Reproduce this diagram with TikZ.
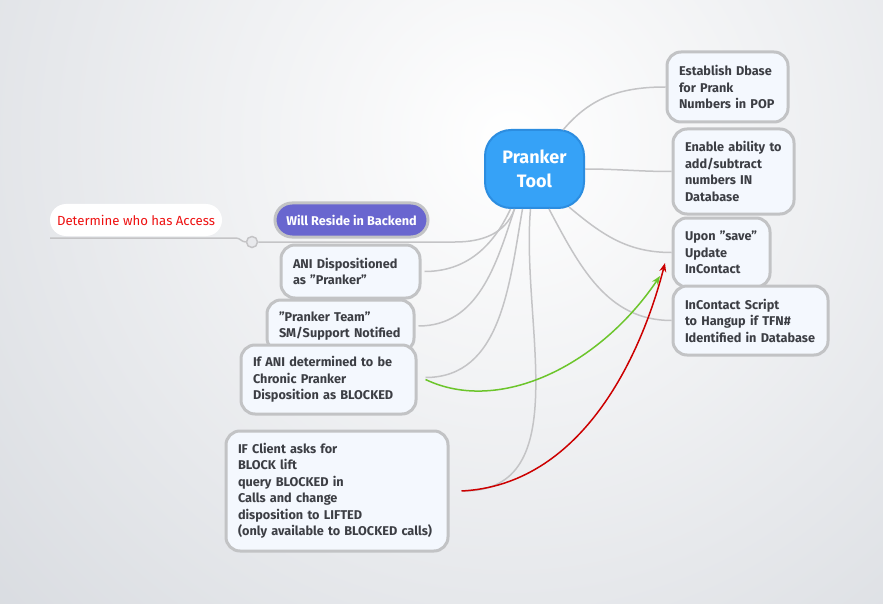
\documentclass[tikz,border=0pt]{standalone}
\usepackage{fontspec}
\setmainfont{Fira Sans}
\usetikzlibrary{arrows.meta,calc}
\definecolor{bgedge}{HTML}{D8DBE0}
\definecolor{boxfill}{HTML}{F4F8FE}
\definecolor{boxline}{HTML}{C2C3C5}
\definecolor{txt}{HTML}{3C3E44}
\definecolor{conn}{HTML}{C4C4C6}
\definecolor{rootfill}{HTML}{36A2F7}
\definecolor{rootline}{HTML}{2C8DE0}
\definecolor{purp}{HTML}{6966CF}
\definecolor{redtxt}{HTML}{EE1111}
\definecolor{grn}{HTML}{6CC52B}
\definecolor{redarr}{HTML}{CC0000}
\newcommand{\qq}{\symbol{34}}
\tikzset{
  topic/.style={draw=boxline, line width=3pt, fill=boxfill, rounded corners=14pt,
    text=txt, font=\fontsize{12.7}{16.5}\selectfont\bfseries, align=left,
    inner xsep=12pt, inner ysep=0pt},
  conline/.style={draw=conn, line width=1.5pt},
}
\begin{document}
\begin{tikzpicture}[x=1pt,y=-1pt]
\useasboundingbox (0,0) rectangle (883,604);
\begin{scope}
\clip (0,0) rectangle (883,604);
\fill[bgedge] (0,0) rectangle (883,604);
\shade[inner color=white, outer color=bgedge] (510,140) circle (720pt);
\end{scope}
% root
\node[draw=rootline, line width=2pt, fill=rootfill, rounded corners=26pt,
  minimum width=99pt, minimum height=78pt, text=white, align=center,
  font=\fontsize{18}{24}\selectfont\bfseries] (root) at (534.5,169) {Pranker\\Tool};
% right side topics
\node[topic, minimum width=121pt, minimum height=70pt, text width=97pt] (est) at (727.5,87) {Establish Dbase\\for Prank\\Numbers in POP};
\node[topic, minimum width=121pt, minimum height=85pt, text width=97pt] (ena) at (733.5,171.5) {Enable ability to\\add/subtract\\numbers IN\\Database};
\node[topic, minimum width=97pt, minimum height=69pt, text width=73pt] (upon) at (721.5,252.5) {Upon \qq save\qq\\Update\\InContact};
\node[topic, minimum width=155pt, minimum height=69pt, text width=131pt] (inc) at (750.5,320.5) {InContact Script\\to Hangup if TFN\#\\Identified in Database};
% left side
\node[draw=boxline, line width=3pt, fill=purp, rounded corners=17pt, minimum width=153pt,
  minimum height=34pt, text=white, font=\fontsize{12.7}{15}\selectfont\bfseries, inner sep=0pt] (will) at (351.5,220) {Will Reside in Backend};
\node[fill=white, rounded corners=16pt, minimum width=172pt, minimum height=32pt,
  text=redtxt, font=\fontsize{13.2}{15}\selectfont, inner sep=0pt] (det) at (136,220) {Determine who has Access};
\coordinate (detL) at (50,238);
\node[circle, draw=conn, line width=1.5pt, fill=bgedge!60!white, minimum size=11pt, inner sep=0pt] (knot) at (252,242) {};
% connectors (drawn before left boxes)
\draw[conline] (detL) -- (236,238) to[out=0,in=180] (knot.west);
\draw[conline] (knot.east) -- (455,242) to[out=0,in=-110] ($(root.south)+(-20,0)$);
\draw[conline] ($(root.north east)+(-22,1)$) to[out=50,in=180] (est.west);
\draw[conline] (root.east) to[out=0,in=180] (ena.west);
\draw[conline] ($(root.south east)+(-16,-2)$) to[out=-40,in=180] (upon.west);
\draw[conline] ($(root.south east)+(-36,0)$) to[out=-62,in=180] (inc.west);
\node[topic, minimum width=139pt, minimum height=53pt, text width=115pt] (ani) at (350.5,271.5) {ANI Dispositioned\\as \qq Pranker\qq};
\node[topic, minimum width=147pt, minimum height=52pt, text width=123pt] (team) at (340.5,326) {\qq Pranker Team\qq\\SM/Support Notified};
\node[topic, minimum width=175pt, minimum height=69pt, text width=151pt] (ifani) at (328.5,379.5) {If ANI determined to be\\Chronic Pranker\\Disposition as BLOCKED};
\node[topic, minimum width=222pt, minimum height=120pt, text width=198pt] (cli) at (337,491) {IF Client asks for\\BLOCK lift\\query BLOCKED in\\Calls and change\\disposition to LIFTED\\(only available to BLOCKED calls)};
\draw[conline] ($(ani.east)+(3,0)$) to[out=0,in=-115] ($(root.south)+(-24,0)$);
\draw[conline] ($(team.east)+(3,0)$) to[out=0,in=-108] ($(root.south)+(-20,0)$);
\draw[conline] ($(ifani.east)+(8,-2)$) to[out=0,in=-100] ($(root.south)+(-12,0)$);
\draw[conline] ($(cli.east)+(14,0)$) to[out=0,in=-95] ($(root.south)+(-4,0)$);
% arrows
\coordinate (gA) at (660,276);
\coordinate (rA) at (665,263);
\draw[grn, line width=1.5pt, -{Stealth[length=9pt,width=7pt]}] ($(ifani.east)+(8,0)$) .. controls (500,415) and (600,365) .. (gA);
\draw[redarr, line width=1.5pt, -{Stealth[length=9pt,width=7pt]}] ($(cli.east)+(12,0)$) .. controls (580,485) and (640,360) .. (rA);
\end{tikzpicture}
\end{document}
